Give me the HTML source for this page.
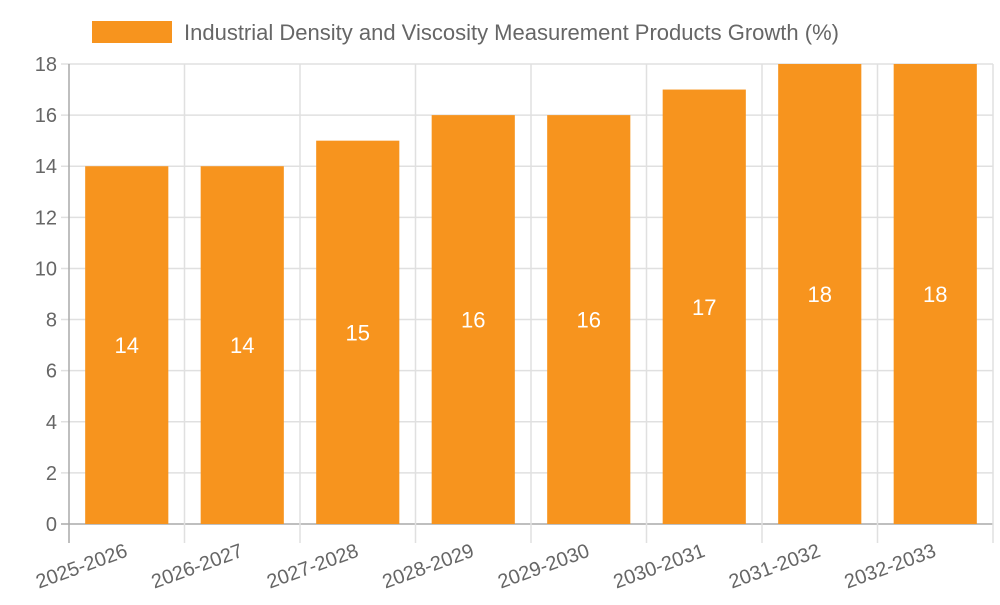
<!DOCTYPE html>
<html><head><meta charset="utf-8"><style>
body{margin:0;background:#fff;width:1000px;height:600px;overflow:hidden;font-family:"Liberation Sans",sans-serif}
</style></head><body>
<svg id="chart" width="1000" height="600" xmlns="http://www.w3.org/2000/svg"></svg>
<script>
const categories=["2025-2026","2026-2027","2027-2028","2028-2029","2029-2030","2030-2031","2031-2032","2032-2033"];
const values=[14,14,15,16,16,17,18,18];
const yTicks=[0,2,4,6,8,10,12,14,16,18];
const svg=document.getElementById('chart');
const NS='http://www.w3.org/2000/svg';
const L=69,R=993,T=64,B=524,yMax=18;
const bw=(R-L)/categories.length;
const y=v=>B-(v/yMax)*(B-T);
const x=i=>L+i*bw;
function mk(t,a){const e=document.createElementNS(NS,t);for(const k in a)e.setAttribute(k,a[k]);svg.appendChild(e);return e;}
// legend
let lg=mk('rect',{x:92,y:21,width:80,height:22,fill:'#f7941e'});


let lt=mk('text',{x:184,y:40,'font-size':22,fill:'#666'});
lt.textContent='Industrial Density and Viscosity Measurement Products Growth (%)';


// grid
yTicks.forEach(v=>{
  let g=mk('line',{x1:L-8,x2:R,y1:y(v),y2:y(v),stroke:v===0?'#aaa':'#e0e0e0','stroke-width':1.5});
  
  
  let t=mk('text',{x:L-12,y:y(v)+7,'font-size':20,fill:'#666','text-anchor':'end'});
  t.textContent=v;
  
  
});
for(let i=0;i<=categories.length;i++){
  let g=mk('line',{x1:x(i),x2:x(i),y1:T,y2:B+19,stroke:i===0?'#aaa':'#e0e0e0','stroke-width':1.5});
  
  
}
categories.forEach((c,i)=>{
  const w=bw*0.72, bx=x(i)+(bw-w)/2;
  let r=mk('rect',{x:bx,y:y(values[i]),width:w,height:B-y(values[i]),fill:'#f7941e'});
  
  
  let v=mk('text',{x:bx+w/2,y:(y(values[i])+B)/2+8,'font-size':22,fill:'#fff','text-anchor':'middle'});
  v.textContent=values[i];
  
  
  const cx=x(i)+bw/2+2, cy=B+32;
  let t=mk('text',{x:cx,y:cy,'font-size':20,fill:'#666','text-anchor':'end',transform:`rotate(-20 ${cx} ${cy})`});
  t.textContent=c;
  
  
});
</script>
</body></html>
